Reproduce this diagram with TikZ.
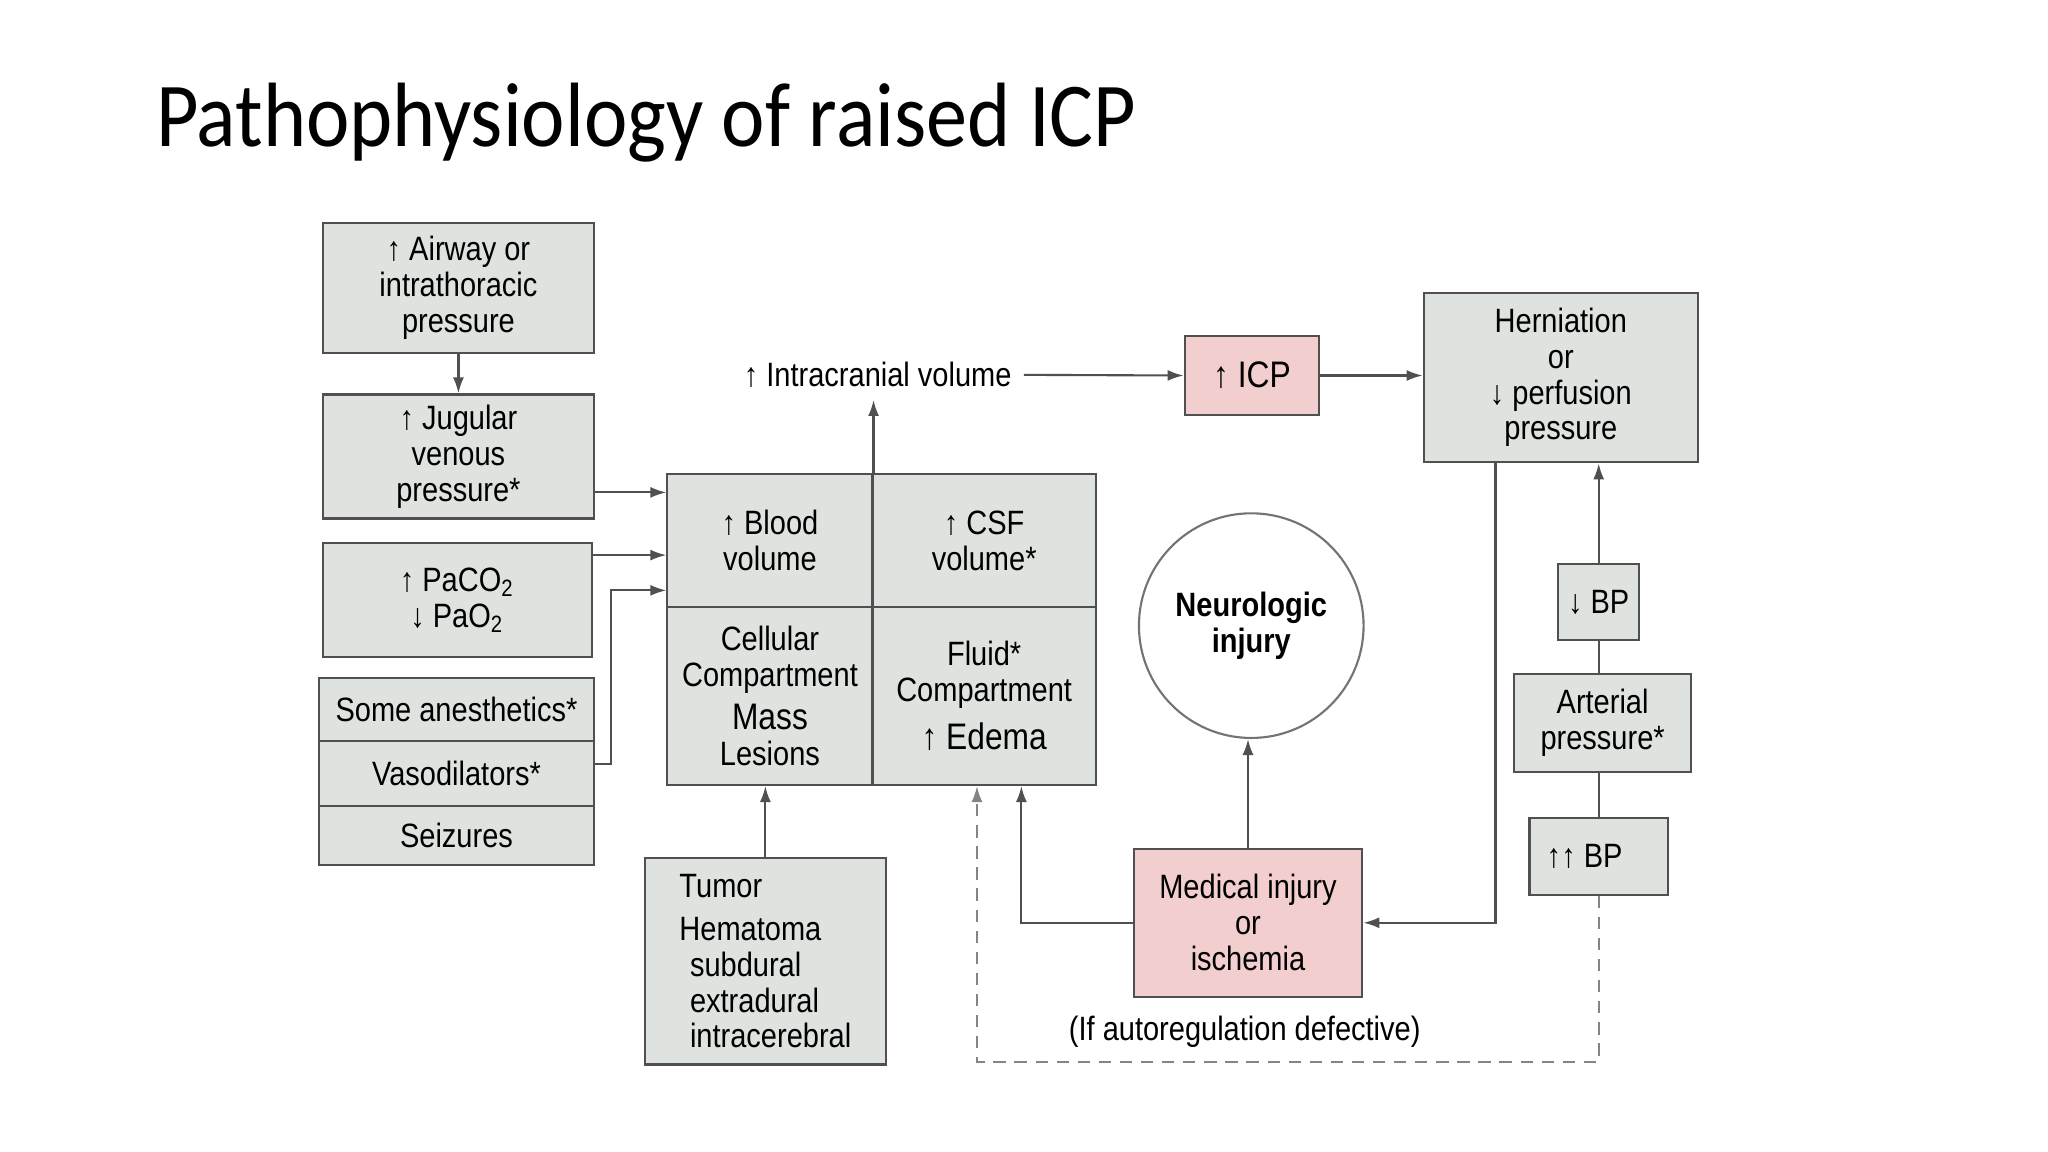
\documentclass[tikz,border=0pt]{standalone}
\usepackage{fontspec}
\newfontfamily\diagfont[FakeStretch=0.86]{Liberation Sans}
\newfontfamily\titlefont[FakeStretch=0.9]{Carlito}
\usetikzlibrary{arrows.meta,positioning}
\newcommand\px{0.01306cm}
\newcommand\diagsize{\diagfont\fontsize{9.6}{10.2}\selectfont}
\definecolor{boxgray}{RGB}{222,227,223}
\definecolor{boxpink}{RGB}{242,206,206}
\definecolor{linegray}{RGB}{80,80,80}

\begin{document}
\begin{tikzpicture}[x=\px, y=-\px, font=\diagsize,
  box/.style={draw=linegray, line width=0.6pt, fill=boxgray, align=center, inner sep=1pt},
  pinkbox/.style={box, fill=boxpink},
  wh/.style 2 args={minimum width=#1*\px, minimum height=#2*\px},
  arr/.style={draw=linegray, line width=0.6pt, -{Latex[length=1.6mm,width=1.1mm]}}]
  \useasboundingbox (0,0) rectangle (1568,882);
  \node[anchor=base west, inner sep=0pt, font=\titlefont\fontsize{26}{30}\selectfont] (title) at (119,112)
    {Pathophysiology of raised ICP};

  \node[box, wh={208}{99}] (airway) at (351,220.5) {↑ Airway or\\intrathoracic\\pressure};
  \node[box, wh={208}{95}] (jugular) at (351,349.5) {↑ Jugular\\venous\\pressure*};
  \node[box, wh={206}{87}] (paco) at (350,459.5) {↑ PaCO\textsubscript{2}\\↓ PaO\textsubscript{2}};
  \node[box, wh={211}{48}] (anaes) at (349.5,543) {Some anesthetics*};
  \node[box, wh={211}{50}] (vasod) at (349.5,592) {Vasodilators*};
  \node[box, wh={211}{45}] (seiz) at (349.5,639.5) {Seizures};

  \node[box, wh={157}{102}] (bloodv) at (589.5,414) {↑ Blood\\volume};
  \node[box, wh={171}{102}] (csfv) at (753.5,414) {↑ CSF\\volume*};
  \node[box, wh={157}{136}] (cellc) at (589.5,533)
    {Cellular\\Compartment\\[2pt]\fontsize{10.5}{10.6}\selectfont Mass\\Lesions};
  \node[box, wh={171}{136}] (fluidc) at (753.5,533)
    {Fluid*\\Compartment\\[3.5pt]\fontsize{10.5}{11}\selectfont ↑ Edema};

  \node (icv) at (672,287) {↑ Intracranial volume};
  \node[pinkbox, wh={103}{61}, font=\diagfont\fontsize{10.5}{11}\selectfont] (icp) at (958.5,287.5) {↑ ICP};
  \node[box, wh={210}{130}] (hern) at (1195,289) {Herniation\\or\\↓ perfusion\\pressure};
  \node[circle, draw=linegray!80, line width=0.6pt, fill=white, minimum size=172*\px,
    align=center, font={\diagsize\bfseries}] (neuro) at (958,479) {Neurologic\\injury};

  \node[box, wh={62}{58}] (lowbp) at (1224,461) {↓ BP};
  \node[box, wh={136}{75}] (artp) at (1227,553.5) {Arterial\\pressure*};
  \node[box, wh={106}{59}] (highbp) at (1224,655.5) {↑↑ BP\hspace*{8pt}};

  \node[pinkbox, wh={175}{113}] (medinj) at (955.5,706.5) {Medical injury\\or\\ischemia};
  \node[box, wh={185}{158}, align=left] (tumor) at (586,736)
    {Tumor\\[2pt]Hematoma\\\hspace*{3pt}subdural\\\hspace*{3pt}extradural\\\hspace*{3pt}intracerebral};
  \node (autoreg) at (953,790) {(If autoregulation defective)};

  \draw[arr] (airway.south) -- (jugular.north);
  \foreach \src/\y in {jugular/377, paco/425}
    \draw[arr] (\src.east |- 0,\y) -- (bloodv.west |- 0,\y);
  \draw[arr] (vasod.east |- 0,585) -| (468,452) -- (bloodv.west |- 0,452);
  \draw[arr] (bloodv.north east) -- (bloodv.north east |- icv.south);
  \draw[arr] (icv.east) -- (icp.west);
  \draw[arr] (icp.east) -- (hern.west |- icp.east);
  \draw[arr] (hern.south -| 1145,0) |- (medinj.east);
  \draw[arr] (lowbp.north) -- (lowbp.north |- hern.south);
  \draw[linegray, line width=0.6pt] (lowbp.south) -- (lowbp.south |- artp.north);
  \draw[linegray, line width=0.6pt] (highbp.north) -- (highbp.north |- artp.south);
  \draw[arr, draw=linegray!70, dash pattern=on 3.5pt off 2.5pt]
    (highbp.south) -- (highbp.south |- 0,813) -- (748,813) -- (fluidc.south -| 748,0);
  \draw[arr] (medinj.west) -| (fluidc.south -| 782,0);
  \draw[arr] (medinj.north) -- (medinj.north |- neuro.south);
  \draw[arr] (tumor.north) -- (tumor.north |- cellc.south);
\end{tikzpicture}
\end{document}
